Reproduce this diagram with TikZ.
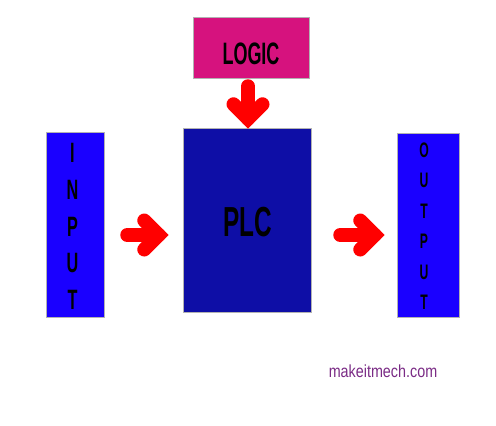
\documentclass[tikz,border=0pt]{standalone}
\usepackage{fontspec}
\newfontfamily\condfont[FakeStretch=0.58]{Liberation Sans}
\newfontfamily\sitefont[FakeStretch=0.82]{Liberation Sans}
\definecolor{logicpink}{RGB}{214,18,126}
\definecolor{plcblue}{RGB}{14,14,166}
\definecolor{ioblue}{RGB}{26,0,255}
\definecolor{sitepurple}{RGB}{122,43,133}
\tikzset{
  fatarrow/.style={draw=red,line width=14pt,line cap=round,line join=miter},
  chevron/.pic={\draw[fatarrow] (-14.5,14.5) -- (0,0) -- (-14.5,-14.5);}
}

\begin{document}
\begin{tikzpicture}[x=1pt,y=-1pt]
                \useasboundingbox (0,0) rectangle (496,426);
                \foreach \x/\y/\w/\h/\n/\c in {75/224.5/58/185/input/ioblue, 428/225/62/184/output/ioblue, 247/220/128/184/plc/plcblue, 251/47.5/116/61/logic/logicpink}
                \node[inner sep=0mm,draw=gray!60,line width=.5pt,fill=\c,minimum width=\w pt,minimum height=\h pt] (\n) at (\x,\y) {};
                \node[font=\condfont\bfseries\fontsize{31}{31}\selectfont] (logictext) at ([yshift=-6.5pt]logic.center) {LOGIC};
                \node[font=\condfont\bfseries\fontsize{42}{42}\selectfont] (plctext) at ([xshift=1pt,yshift=-2pt]plc.center) {PLC};
                \node[align=center,font=\condfont\bfseries\fontsize{28}{36.75}\selectfont] (inputtext) at ([xshift=-2.5pt,yshift=-2pt]input.center) {I\\N\\P\\U\\T};
                \node[align=center,font=\condfont\bfseries\fontsize{21}{30.5}\selectfont] (outputtext) at ([xshift=-4pt,yshift=-1pt]output.center) {O\\U\\T\\P\\U\\T};
                \node[font=\sitefont\fontsize{17.5}{17.5}\selectfont,text=sitepurple,anchor=base] (site) at (383,377) {makeitmech.com};
                % arrow ends
                \coordinate (ins) at ([xshift=23pt,yshift=-10.5pt]input.east);
                \coordinate (int) at ([xshift=-24pt,yshift=-15pt]plc.west);
                \coordinate (outs) at ([xshift=29pt,yshift=-15pt]plc.east);
                \coordinate (outt) at ([xshift=-22pt,yshift=-10pt]output.west);
                \coordinate (logs) at ([xshift=-3pt,yshift=-8pt]logic.south);
                \coordinate (logt) at ([xshift=1pt,yshift=9pt]plc.north);
                \foreach \s/\t/\r in {ins/int/0, outs/outt/0, logs/logt/-90}
                {\draw[fatarrow] (\s) -- (\t);
                \pic[rotate=\r] at (\t) {chevron};}
            \end{tikzpicture}
\end{document}
